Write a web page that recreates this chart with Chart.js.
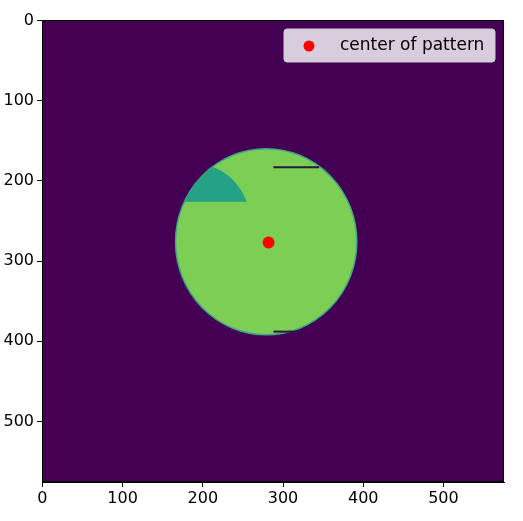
<!DOCTYPE html><html><head><script src="https://cdn.jsdelivr.net/npm/chart.js@4"></script>
<style>body{margin:0;background:#fff}</style></head><body>
<div style="width:523px;height:521px"><canvas id="c"></canvas></div>
<script>
const imageExtent=[-0.5,575.5];
const tickValues=[0,100,200,300,400,500];
const discCenter=[279,276];
const discRadius=[113,116];
const patchTop=183, patchBottom=226, patchRightTop=213, patchRightBottom=255;
const lineSegments=[[288,345,183],[288,322,388]];
const patternCenter=[{x:282,y:277}];
const legendLabel='center of pattern';

const bg={id:'bg',beforeDatasetsDraw(ch){
 const {ctx,chartArea:a,scales:{x,y}}=ch;
 ctx.save();ctx.beginPath();ctx.rect(a.left,a.top,a.right-a.left,a.bottom-a.top);ctx.clip();
 ctx.fillStyle='#440154';ctx.fillRect(a.left,a.top,a.right-a.left,a.bottom-a.top);
 const cx=x.getPixelForValue(discCenter[0]),cy=y.getPixelForValue(discCenter[1]);
 const rx=Math.abs(x.getPixelForValue(discCenter[0]+discRadius[0])-cx),ry=Math.abs(y.getPixelForValue(discCenter[1]+discRadius[1])-cy);
 ctx.beginPath();ctx.ellipse(cx,cy,rx,ry,0,0,Math.PI*2);ctx.fillStyle='#7cce55';ctx.fill();
 ctx.lineWidth=1.5;ctx.strokeStyle='#3fa88a';ctx.stroke();
 ctx.save();ctx.beginPath();ctx.ellipse(cx,cy,rx,ry,0,0,Math.PI*2);ctx.clip();
 const yt=y.getPixelForValue(patchTop),yb=y.getPixelForValue(patchBottom);
 ctx.beginPath();ctx.moveTo(a.left,yt);ctx.lineTo(x.getPixelForValue(patchRightTop),yt);
 ctx.quadraticCurveTo(x.getPixelForValue(patchRightTop+28),y.getPixelForValue(patchTop+10),x.getPixelForValue(patchRightBottom),yb);
 ctx.lineTo(a.left,yb);ctx.closePath();ctx.fillStyle='#25a185';ctx.fill();
 ctx.restore();
 ctx.strokeStyle='#2a1a3a';ctx.lineWidth=2;
 for(const s of lineSegments){ctx.beginPath();ctx.moveTo(x.getPixelForValue(s[0]),y.getPixelForValue(s[2]));ctx.lineTo(x.getPixelForValue(s[1]),y.getPixelForValue(s[2]));ctx.stroke();}
 ctx.restore();
},afterDraw(ch){
 const {ctx,chartArea:a}=ch;ctx.save();
 ctx.strokeStyle='#000';ctx.lineWidth=1;ctx.strokeRect(a.left+0.5,a.top+0.5,a.right-a.left-1,a.bottom-a.top-1);
 const lx=284,ly=29,lw=211,lh=33;
 ctx.fillStyle='rgba(255,255,255,0.8)';ctx.strokeStyle='#ccc';
 ctx.beginPath();ctx.roundRect(lx,ly,lw,lh,3);ctx.fill();ctx.stroke();
 ctx.fillStyle='#ff0000';ctx.beginPath();ctx.arc(309,46,5.5,0,Math.PI*2);ctx.fill();
 ctx.fillStyle='#000';ctx.font='17px "DejaVu Sans"';ctx.textBaseline='middle';ctx.fillText(legendLabel,340,46);
 ctx.restore();
}};
const tickOpts={color:'#000',font:{family:'DejaVu Sans',size:16}};
new Chart(document.getElementById('c'),{type:'scatter',
 data:{datasets:[{label:legendLabel,data:patternCenter,backgroundColor:'#ff0000',borderWidth:0,pointRadius:6}]},
 options:{responsive:true,maintainAspectRatio:false,animation:false,
 layout:{padding:{top:20,right:19,left:0,bottom:0}},
 plugins:{legend:{display:false},tooltip:{enabled:false}},
 scales:{
  x:{type:'linear',min:imageExtent[0],max:imageExtent[1],afterFit(s){s.height=39;},
   afterBuildTicks(s){s.ticks=tickValues.map(v=>({value:v}));},
   ticks:{...tickOpts,padding:2},grid:{display:true,drawOnChartArea:false,color:'#000',tickLength:5},border:{color:'#000'}},
  y:{type:'linear',reverse:true,min:imageExtent[0],max:imageExtent[1],afterFit(s){s.width=42;},
   afterBuildTicks(s){s.ticks=tickValues.map(v=>({value:v}));},
   ticks:{...tickOpts,padding:3},grid:{display:true,drawOnChartArea:false,color:'#000',tickLength:5},border:{color:'#000'}}
 }},plugins:[bg]});
</script></body></html>
